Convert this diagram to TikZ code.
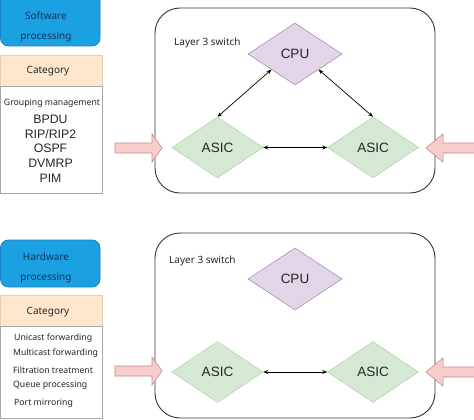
\documentclass[tikz,border=0pt]{standalone}
\usepackage{fontspec}
\setmainfont{Liberation Sans}
\newfontfamily\uifont{Noto Sans}
\usetikzlibrary{shapes.geometric,arrows.meta}
\definecolor{bluefill}{HTML}{1BA1E2}
\definecolor{blueline}{HTML}{1C82BF}
\definecolor{bluetext}{HTML}{0E3560}
\definecolor{peach}{HTML}{FFE6CC}
\definecolor{peachline}{HTML}{E8CFB4}
\definecolor{cpufill}{HTML}{E1D5E7}
\definecolor{cpuline}{HTML}{9673A6}
\definecolor{asicfill}{HTML}{D5E8D4}
\definecolor{asicline}{HTML}{A9CB96}
\definecolor{pinkfill}{HTML}{F8CECC}
\definecolor{pinkline}{HTML}{C98A88}
\definecolor{greyline}{HTML}{A6A6A6}
\tikzset{
  procbox/.style={draw=blueline,fill=bluefill,rounded corners=8pt,line width=0.8pt},
  procText/.style={text=bluetext,font={\uifont\fontsize{10}{20}\selectfont},align=center,inner sep=0pt},
  catbox/.style={draw=peachline,fill=peach,line width=0.6pt},
  listbox/.style={draw=greyline,fill=white,line width=0.6pt},
  smalltext/.style={font={\uifont\fontsize{8.7}{8.7}\selectfont},inner sep=0pt,text=black!85},
  midtext/.style={font={\uifont\fontsize{10}{10}\selectfont},inner sep=0pt,text=black!85},
  bigtext/.style={font={\fontsize{12.3}{12.3}\selectfont},inner sep=0pt,text=black!85},
  switchbox/.style={draw=black!80,rounded corners=25pt,line width=0.9pt},
  cpushape/.style={diamond,draw=cpuline,fill=cpufill,minimum width=94pt,minimum height=62pt,inner sep=0pt,aspect=1.5,font={\fontsize{13.5}{13.5}\selectfont},text=black!85},
  asicshape/.style={diamond,draw=asicline,fill=asicfill,minimum width=91pt,minimum height=61pt,inner sep=0pt,aspect=1.5,font={\fontsize{13.5}{13.5}\selectfont},text=black!85},
  conn/.style={draw=black,line width=0.7pt,{Stealth[length=5pt,width=4pt]}-{Stealth[length=5pt,width=4pt]}},
  pinkarrow/.style={draw=pinkline,fill=pinkfill,line width=0.6pt,line join=miter},
}
\begin{document}
\begin{tikzpicture}[x=1pt,y=-1pt]
\useasboundingbox (0,0) rectangle (474,420);
\fill[white] (0,0) rectangle (474,420);

% ---------- top ----------
\draw[procbox] (0.5,-8) rectangle (100,46);
\node[procText] (sw) at (46,27) {Software\\processing};
\draw[catbox] (0.5,55) rectangle (102,86);
\node[midtext] (cat1) at (48,71) {Category};
\draw[listbox] (0.5,86) rectangle (102,193);
\node[smalltext] (g1) at (52,103) {Grouping management};
\node[bigtext] (l1) at (50.5,119) {BPDU};
\node[bigtext] (l2) at (50.5,134) {RIP/RIP2};
\node[bigtext] (l3) at (50.5,148.5) {OSPF};
\node[bigtext] (l4) at (50.5,163.5) {DVMRP};
\node[bigtext] (l5) at (50.5,178) {PIM};

\draw[switchbox] (155,8) rectangle (435,193);
\node[midtext,anchor=west] (t1) at (174,43) {Layer 3 switch};
\node[cpushape] (cpu1) at (295,54) {CPU};
\node[asicshape] (al1) at (217.5,147.5) {ASIC};
\node[asicshape] (ar1) at (373,147.5) {ASIC};
\draw[conn] (cpu1.south west) -- (al1.north);
\draw[conn] (cpu1.south east) -- (ar1.north);
\draw[conn] (al1.east) -- (ar1.west);

\draw[pinkarrow] (115,143) -- (152,143) -- (152,134) -- (162,148) -- (152,162) -- (152,153) -- (115,153) -- cycle;
\draw[pinkarrow] (480,143) -- (443,143) -- (443,134) -- (426,148) -- (443,162) -- (443,153) -- (480,153);

% ---------- bottom ----------
\draw[procbox] (0.5,240) rectangle (100,287);
\node[procText] (hw) at (46,267.5) {Hardware\\processing};
\draw[catbox] (0.5,295) rectangle (102,326);
\node[midtext] (cat2) at (48,312) {Category};
\draw[listbox] (0.5,326) rectangle (102,418);
\node[smalltext,anchor=west] (h1) at (14,338) {Unicast forwarding};
\node[smalltext,anchor=west] (h2) at (13,353) {Multicast forwarding};
\node[smalltext,anchor=west] (h3) at (13,370) {Filtration treatment};
\node[smalltext,anchor=west] (h4) at (13,385) {Queue processing};
\node[smalltext,anchor=west] (h5) at (14,403) {Port mirroring};

\draw[switchbox] (155,233) rectangle (435,418);
\node[midtext,anchor=west] (t2) at (169,261) {Layer 3 switch};
\node[cpushape] (cpu2) at (295,279) {CPU};
\node[asicshape] (al2) at (217.5,372) {ASIC};
\node[asicshape] (ar2) at (373,372) {ASIC};
\draw[conn] (al2.east) -- (ar2.west);

\draw[pinkarrow] (115,366) -- (152,366) -- (152,357) -- (162,371) -- (152,385) -- (152,376) -- (115,376) -- cycle;
\draw[pinkarrow] (480,367) -- (443,367) -- (443,358) -- (426,372) -- (443,386) -- (443,377) -- (480,377);
\end{tikzpicture}
\end{document}
